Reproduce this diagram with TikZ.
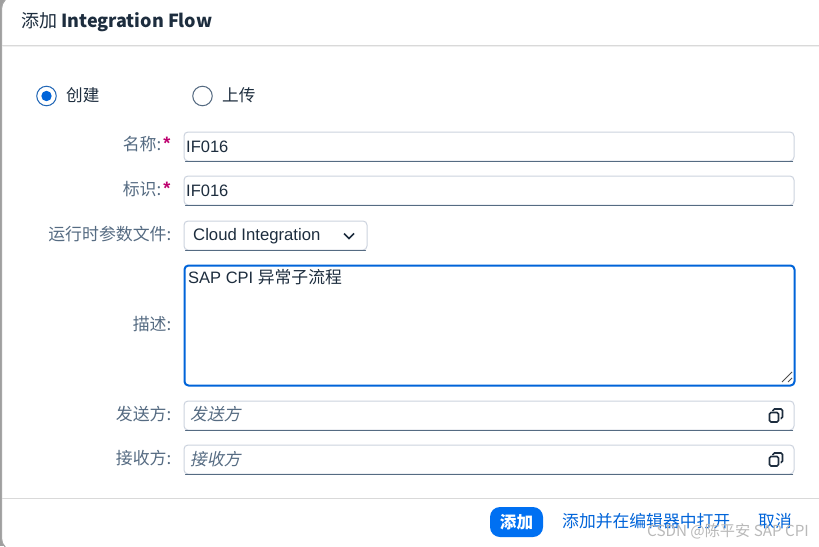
\documentclass[tikz,border=0pt]{standalone}
\usepackage{fontspec}
\usepackage{xcolor}
\usepackage{tikz}
\usetikzlibrary{positioning, calc}
\setmainfont{Liberation Sans}
\newfontfamily\cjkfont{Noto Sans CJK SC}
\newfontfamily\cjkslant[FakeSlant=0.2]{Noto Sans CJK SC}
\definecolor{sapblue}{RGB}{0, 100, 217}
\definecolor{sapbutton}{RGB}{0, 112, 242}
\definecolor{saplabel}{RGB}{85, 107, 130}
\definecolor{sapline}{RGB}{85, 107, 130}
\definecolor{sapborder}{RGB}{204, 211, 222}
\definecolor{sapink}{RGB}{29, 45, 62}
\definecolor{sapstar}{RGB}{190, 0, 110}
\tikzset{
  fieldbox/.style={draw=sapborder, fill=white, rounded corners=4pt, line width=1pt, inner sep=0pt, anchor=north west},
  formlabel/.style={text=saplabel, font=\cjkfont\fontsize{16.9}{19}\selectfont, anchor=east, inner sep=0pt},
  fieldtext/.style={text=sapink, font=\fontsize{16.5}{19}\selectfont, anchor=west, inner sep=0pt},
  hinttext/.style={text=saplabel, font=\cjkslant\fontsize{16.8}{19}\selectfont, anchor=west, inner sep=0pt},
  radiotext/.style={text=sapink, font=\cjkfont\fontsize{16.6}{19}\selectfont, anchor=west, inner sep=0pt},
  radioring/.style={circle, draw=sapline, fill=white, line width=1pt, minimum size=19.5pt, inner sep=0pt},
  starmark/.style={text=sapstar, font=\bfseries\fontsize{18}{18}\selectfont, inner sep=0pt},
  linktext/.style={text=sapblue, font=\cjkfont\fontsize{16.8}{19}\selectfont, inner sep=0pt}
}
\begin{document}
\begin{tikzpicture}[x=1pt, y=-1pt]
    \useasboundingbox (0,0) rectangle (819,546);
    % Behind the dialog
    \fill[gray!75] (0,0) rectangle (819,546);
    \draw[fill=white, draw=gray!70, line width=1pt, rounded corners=13pt] (1.5,-4) rectangle (824,551);

    % Header
    \fill[gray!12] (2,45) rectangle (819,47);
    \draw[gray!30, line width=1pt] (2,45) -- (819,45);
    \node[text=sapink, anchor=west, inner sep=0pt, font=\cjkfont\fontsize{18}{20}\selectfont] (title) at (21,22.5) {添加 \bfseries Integration Flow};

    % Radio buttons
    \node[radioring, draw=sapblue!60!sapline] (createring) at (46.5,96) {};
    \fill[sapblue] (createring.center) circle (5.2);
    \node[radiotext] (createlabel) at (66,95.5) {创建};
    \node[radioring] (uploadring) at (202.5,96) {};
    \node[radiotext] (uploadlabel) at (222,95.5) {上传};

    % Input fields
    \node[fieldbox, minimum width=610pt, minimum height=29pt] (namefield) at (183.5,131.5) {};
    \node[fieldbox, minimum width=610pt, minimum height=29pt] (idfield) at (183.5,175.5) {};
    \node[fieldbox, minimum width=183pt, minimum height=29pt] (runfield) at (183.5,220.5) {};
    \node[fieldbox, minimum width=610pt, minimum height=29pt] (senderfield) at (183.5,400.5) {};
    \node[fieldbox, minimum width=610pt, minimum height=29pt] (receiverfield) at (183.5,444.5) {};
    \foreach \field in {namefield, idfield, runfield, senderfield, receiverfield} {
        \draw[sapline, line width=1pt, line cap=round] ($(\field.south west)+(2,0)$) -- ($(\field.south east)+(-2,0)$);
    }
    \node[fieldbox, draw=sapblue, line width=2pt, minimum width=610pt, minimum height=120pt] (descfield) at (183.5,264.5) {};

    % Labels
    \node[formlabel, anchor=east] (namelabel) at (161.5,144.5) {名称:};
    \node[starmark] (namestar) at (167,143) {*};
    \node[formlabel] (idlabel) at (161.5,189.5) {标识:};
    \node[starmark] (idstar) at (167,188) {*};
    \node[formlabel] (runlabel) at (171.5,234.5) {运行时参数文件:};
    \node[formlabel] (desclabel) at (171.5,324.5) {描述:};
    \node[formlabel] (senderlabel) at (171.5,414.5) {发送方:};
    \node[formlabel] (receiverlabel) at (171.5,458.5) {接收方:};

    % Field contents
    \node[fieldtext] (namevalue) at (186,146.5) {IF016};
    \node[fieldtext] (idvalue) at (186,190.5) {IF016};
    \node[fieldtext, font=\fontsize{16.7}{19}\selectfont] (runvalue) at (193,236) {Cloud Integration};
    \node[fieldtext, font=\fontsize{16.5}{19}\selectfont] (descvalue) at (188,277.5) {SAP CPI {\cjkfont\fontsize{16.8}{19}\selectfont 异常子流程}};
    \node[hinttext] (senderhint) at (190,414.5) {发送方};
    \node[hinttext] (receiverhint) at (190,459) {接收方};

    % Dropdown arrow and resize grip
    \draw[sapink, line width=1.5pt] (344,233.5) -- (349,238.5) -- (354,233.5);
    \draw[gray!60!black, line width=1pt] (782,382) -- (792,372) (788,382) -- (792,378);

    % Copy icons
    \foreach \field in {senderfield, receiverfield} {
        \draw[sapink, line width=1.6pt, rounded corners=1.5pt] ($(\field.center)+(280.5,-3)$) rectangle ++(9,9.5);
        \draw[sapink, line width=1.6pt, rounded corners=1.5pt] ($(\field.center)+(284,-4.5)$) -- ++(0,-2) -- ++(9.5,0) -- ++(0,9.5) -- ++(-2,0);
    }

    % Footer
    \draw[gray!30, line width=1pt] (2,498) -- (819,498);
    \node[fill=sapbutton, rounded corners=10pt, minimum width=53pt, minimum height=30pt, inner sep=0pt, text=white, font=\cjkfont\bfseries\fontsize{16.6}{19}\selectfont] (addbutton) at (516.5,522) {添加};
    \node[linktext, anchor=west] (openlink) at (562,521) {添加并在编辑器中打开};
    \node[linktext, anchor=west] (cancellink) at (758,521) {取消};

    % Watermark
    \node[text=gray!55, anchor=west, inner sep=0pt, font=\cjkfont\fontsize{15.2}{18}\selectfont] (watermark) at (647,531) {CSDN @陈平安 SAP CPI};
\end{tikzpicture}
\end{document}
